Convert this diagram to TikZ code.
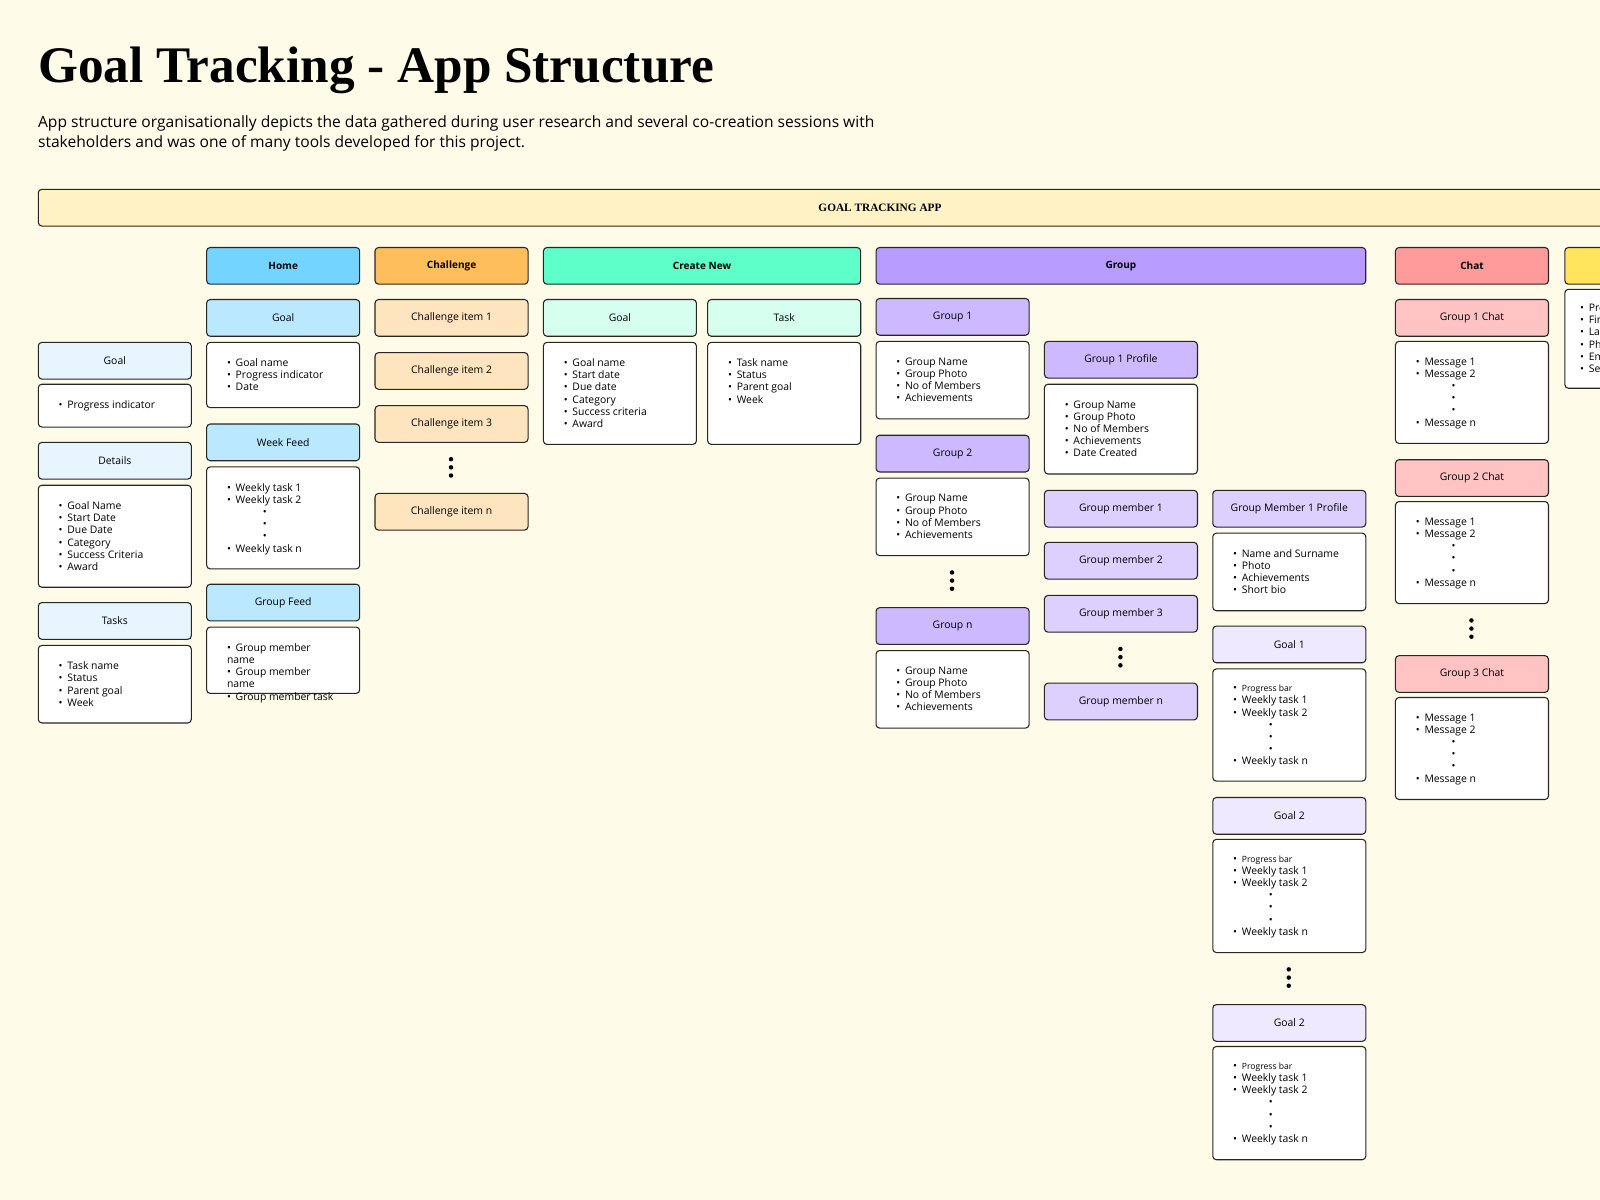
\documentclass[tikz,border=0pt]{standalone}
\usepackage{fontspec}
\setmainfont{Liberation Serif}
\setsansfont{Open Sans}
\usepackage{tikz}
\definecolor{bgcream}{HTML}{FFFBE9}
\definecolor{bannerfill}{HTML}{FFF3C6}
\definecolor{homeblue}{HTML}{72D4FF}
\definecolor{homesub}{HTML}{B9E8FF}
\definecolor{detailsub}{HTML}{E6F5FF}
\definecolor{chalorange}{HTML}{FFBE5C}
\definecolor{chalsub}{HTML}{FFE5BF}
\definecolor{newgreen}{HTML}{5EFFC8}
\definecolor{newsub}{HTML}{D6FFF0}
\definecolor{grppurple}{HTML}{B89CFF}
\definecolor{grpsub}{HTML}{CDB9FF}
\definecolor{membsub}{HTML}{DCD0FF}
\definecolor{profsub}{HTML}{EEE9FF}
\definecolor{chatred}{HTML}{FF9B9B}
\definecolor{chatsub}{HTML}{FFC3C3}
\definecolor{profyellow}{HTML}{FFE45C}
\newcommand{\itm}[1]{\makebox[0.17cm][l]{\textbullet}#1\par}
\newcommand{\vdot}{\hspace*{0.7cm}\textbullet\par}
\newcommand{\smitm}[1]{\makebox[0.17cm][l]{\textbullet}{\fontsize{4.8}{6.8}\selectfont #1}\par}
\newcommand{\lbox}[4]{\node[lst] (#1) at (#2) {\parbox[t][#3][t]{2.2cm}{\raggedright #4}};}
\tikzset{
  box/.style={draw=black!85, rounded corners=2pt, line width=0.6pt, anchor=north west,
    minimum width=3cm, minimum height=0.72cm, inner sep=0pt,
    font=\sffamily\fontsize{5.8}{6.8}\selectfont},
  hdr/.style={box, font=\sffamily\bfseries\fontsize{5.6}{6.8}\selectfont},
  lst/.style={box, fill=white, align=left, inner xsep=0.4cm, inner ysep=0.32cm},
}
\begin{document}
\begin{tikzpicture}[x=0.02cm, y=-0.02cm]
  \fill[bgcream] (0,0) rectangle (1568,1176);
  \useasboundingbox (0,0) rectangle (1568,1176);

  % Title
  \node[anchor=base west, inner sep=0pt, font=\bfseries\fontsize{28.6}{34}\selectfont] (title) at (37,81) {Goal Tracking - App Structure};
  \node[anchor=north west, inner sep=0pt, align=left, font=\sffamily\fontsize{8.7}{11.3}\selectfont] (desc) at (37,113)
    {App structure organisationally depicts the data gathered during user research and several co-creation sessions with\\stakeholders and was one of many tools developed for this project.};
  \node[box, fill=bannerfill, minimum width=33.0cm, font=\bfseries\fontsize{6.3}{7}\selectfont] (app) at (37,185) {GOAL TRACKING APP};

  % Column 1
  \node[box, fill=detailsub] (goal0) at (37,335) {Goal};
  \lbox{goal0l}{37,376}{0.2cm}{\itm{Progress indicator}}
  \node[box, fill=detailsub] (det) at (37,433) {Details};
  \lbox{detl}{37,475}{1.36cm}{\itm{Goal Name}\itm{Start Date}\itm{Due Date}\itm{Category}\itm{Success Criteria}\itm{Award}}
  \node[box, fill=detailsub] (tasks) at (37,590) {Tasks};
  \lbox{tasksl}{37,632}{0.88cm}{\itm{Task name}\itm{Status}\itm{Parent goal}\itm{Week}}

  % Home
  \node[hdr, fill=homeblue] (home) at (202,242) {Home};
  \node[box, fill=homesub] (hgoal) at (202,293) {Goal};
  \lbox{hgoall}{202,335}{0.64cm}{\itm{Goal name}\itm{Progress indicator}\itm{Date}}
  \node[box, fill=homesub] (wfeed) at (202,415) {Week Feed};
  \lbox{wfeedl}{202,457}{1.36cm}{\itm{Weekly task 1}\itm{Weekly task 2}\vdot\vdot\vdot\itm{Weekly task n}}
  \node[box, fill=homesub] (gfeed) at (202,572) {Group Feed};
  \lbox{gfeedl}{202,614}{0.66cm}{\itm{Group member name}\itm{Group member name}\itm{Group member task}}

  % Challenge
  \node[hdr, fill=chalorange] (chal) at (367,242) {Challenge};
  \node[box, fill=chalsub] (ch1) at (367,293) {Challenge item 1};
  \node[box, fill=chalsub] (ch2) at (367,345) {Challenge item 2};
  \node[box, fill=chalsub] (ch3) at (367,397) {Challenge item 3};
  \node[box, fill=chalsub] (chn) at (367,483) {Challenge item n};

  % Create New
  \node[hdr, fill=newgreen, minimum width=6.22cm] (crnew) at (532,242) {Create New};
  \node[box, fill=newsub] (ngoal) at (532,293) {Goal};
  \lbox{ngoall}{532,335}{1.36cm}{\itm{Goal name}\itm{Start date}\itm{Due date}\itm{Category}\itm{Success criteria}\itm{Award}}
  \node[box, fill=newsub] (ntask) at (693,293) {Task};
  \lbox{ntaskl}{693,335}{1.36cm}{\itm{Task name}\itm{Status}\itm{Parent goal}\itm{Week}}

  % Group
  \node[hdr, fill=grppurple, minimum width=9.6cm] (grp) at (858,242) {Group};
  \node[box, fill=grpsub] (g1) at (858,292) {Group 1};
  \lbox{g1l}{858,334}{0.88cm}{\itm{Group Name}\itm{Group Photo}\itm{No of Members}\itm{Achievements}}
  \node[box, fill=grpsub] (g2) at (858,426) {Group 2};
  \lbox{g2l}{858,468}{0.88cm}{\itm{Group Name}\itm{Group Photo}\itm{No of Members}\itm{Achievements}}
  \node[box, fill=grpsub] (gn) at (858,595) {Group n};
  \lbox{gnl}{858,637}{0.88cm}{\itm{Group Name}\itm{Group Photo}\itm{No of Members}\itm{Achievements}}

  \node[box, fill=grpsub] (g1p) at (1023,334) {Group 1 Profile};
  \lbox{g1pl}{1023,376}{1.12cm}{\itm{Group Name}\itm{Group Photo}\itm{No of Members}\itm{Achievements}\itm{Date Created}}
  \node[box, fill=membsub] (m1) at (1023,480) {Group member 1};
  \node[box, fill=membsub] (m2) at (1023,531) {Group member 2};
  \node[box, fill=membsub] (m3) at (1023,583) {Group member 3};
  \node[box, fill=membsub] (mn) at (1023,669) {Group member n};

  \node[box, fill=membsub] (m1p) at (1188,480) {Group Member 1 Profile};
  \lbox{m1pl}{1188,522}{0.88cm}{\itm{Name and Surname}\itm{Photo}\itm{Achievements}\itm{Short bio}}
  \node[box, fill=profsub] (mg1) at (1188,613) {Goal 1};
  \lbox{mg1l}{1188,655}{1.56cm}{\smitm{Progress bar}\itm{Weekly task 1}\itm{Weekly task 2}\vdot\vdot\vdot\itm{Weekly task n}}
  \node[box, fill=profsub] (mg2) at (1188,781) {Goal 2};
  \lbox{mg2l}{1188,822}{1.58cm}{\smitm{Progress bar}\itm{Weekly task 1}\itm{Weekly task 2}\vdot\vdot\vdot\itm{Weekly task n}}
  \node[box, fill=profsub] (mgn) at (1188,984) {Goal 2};
  \lbox{mgnl}{1188,1025}{1.58cm}{\smitm{Progress bar}\itm{Weekly task 1}\itm{Weekly task 2}\vdot\vdot\vdot\itm{Weekly task n}}

  % Chat
  \node[hdr, fill=chatred] (chat) at (1367,242) {Chat};
  \node[box, fill=chatsub] (c1) at (1367,293) {Group 1 Chat};
  \lbox{c1l}{1367,334}{1.36cm}{\itm{Message 1}\itm{Message 2}\vdot\vdot\vdot\itm{Message n}}
  \node[box, fill=chatsub] (c2) at (1367,450) {Group 2 Chat};
  \lbox{c2l}{1367,491}{1.36cm}{\itm{Message 1}\itm{Message 2}\vdot\vdot\vdot\itm{Message n}}
  \node[box, fill=chatsub] (c3) at (1367,642) {Group 3 Chat};
  \lbox{c3l}{1367,683}{1.36cm}{\itm{Message 1}\itm{Message 2}\vdot\vdot\vdot\itm{Message n}}

  % Profile (cut at the edge)
  \node[hdr, fill=profyellow] (prof) at (1533,242) {Profile};
  \node[lst, inner xsep=0.28cm, inner ysep=0.28cm] (profl) at (1533,283) {\parbox[t][1.38cm][t]{2.4cm}{\itm{Profile photo}\itm{First name}\itm{Last name}\itm{Phone}\itm{Email}\itm{Settings}}};

  % More-items dots
  \foreach \px/\py in {442/458, 933/569, 1098/644, 1263/958, 1442/616}
    \foreach \k in {-8,0,8}
      \fill (\px,\py+\k) circle (2.2);
\end{tikzpicture}
\end{document}
